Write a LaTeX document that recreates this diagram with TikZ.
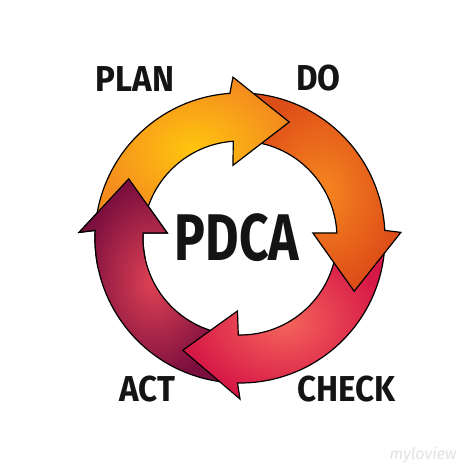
\documentclass[tikz,border=0pt]{standalone}
\usepackage{fontspec}
\setmainfont{Fira Sans}
\definecolor{pIn}{RGB}{255,198,14}
\definecolor{pOut}{RGB}{244,140,30}
\definecolor{dIn}{RGB}{246,134,32}
\definecolor{dOut}{RGB}{222,78,24}
\definecolor{cIn}{RGB}{245,102,92}
\definecolor{cOut}{RGB}{214,24,70}
\definecolor{aIn}{RGB}{224,66,84}
\definecolor{aOut}{RGB}{122,14,62}
\definecolor{wmark}{RGB}{226,226,226}
\def\rOut{145}
\def\rIn{97}
% #1 style, #2 tail angle, #3 base angle, #4 outer corner angle, #5 inner corner angle, #6 tip angle
\newcommand\pdcaarrow[6]{%
  \path[#1] (#2:\rOut) arc[start angle=#2, end angle=#3, radius=\rOut]
    -- (#4:161) -- (#6:126) -- (#5:73) -- (#3:\rIn)
    arc[start angle=#3, end angle=#2, radius=\rIn] -- cycle;}
\tikzset{
  ringarrow/.style={draw=black, line width=1.2pt, line join=miter},
  arrP/.style={ringarrow, inner color=pIn, outer color=pOut},
  arrD/.style={ringarrow, inner color=dIn, outer color=dOut},
  arrC/.style={ringarrow, inner color=cIn, outer color=cOut},
  arrA/.style={ringarrow, inner color=aIn, outer color=aOut},
  lbl/.style={font=\bfseries\fontsize{36}{36}\selectfont, text=black!92, inner sep=0pt}
}
\begin{document}
\begin{tikzpicture}[x=1pt,y=1pt]
\useasboundingbox[fill=white] (-240,-236) rectangle (234,238);
% arrows: drawn A, C, D, P; then A head redrawn on top of P tail
\pdcaarrow{arrA}{263}{177}{178}{176}{152}
\pdcaarrow{arrC}{-3}{-91}{-90}{-92}{-117}
\pdcaarrow{arrD}{88}{3}{2}{4}{-25}
\pdcaarrow{arrP}{171}{94}{92.5}{95.5}{67}
\begin{scope}
  \clip (0,0) -- (138:220) arc[start angle=138, end angle=192, radius=220] -- cycle;
  \pdcaarrow{arrA}{263}{177}{178}{176}{152}
\end{scope}
% labels
\node[lbl] (plan) at (-105,158.5) {\scalebox{0.92}[1]{PLAN}};
\node[lbl] (do) at (78.5,159.5) {\scalebox{0.92}[1]{DO}};
\node[lbl] (act) at (-92.5,-151.5) {\scalebox{0.92}[1]{ACT}};
\node[lbl] (check) at (106.5,-151.5) {\scalebox{0.92}[1]{CHECK}};
\node[lbl, font=\bfseries\fontsize{66}{66}\selectfont] (pdca) at (-3,0.5) {\scalebox{0.78}[1]{PDCA}};
\node[text=wmark, font=\itshape\fontsize{16}{16}\selectfont, inner sep=0pt] (wm) at (183,-217) {myloview};
\end{tikzpicture}
\end{document}
